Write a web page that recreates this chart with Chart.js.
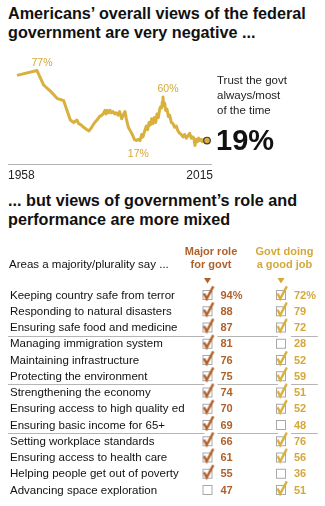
<!DOCTYPE html>
<html>
<head>
<meta charset="utf-8">
<script src="https://cdn.jsdelivr.net/npm/chart.js@4.4.1/dist/chart.umd.min.js"></script>
<style>
  html, body { margin: 0; padding: 0; background: #fff; }
  body { width: 325px; height: 506px; position: relative; overflow: hidden;
         font-family: "Liberation Sans", Arial, sans-serif; color: #111; }
  .head { position: absolute; left: 8px; font-weight: bold; font-size: 16.2px; line-height: 18.3px; white-space: nowrap; }
  .note { position: absolute; left: 217px; top: 72.7px; font-size: 11.5px; line-height: 15.3px; color: #222; }
  .big { position: absolute; left: 216px; top: 125.5px; font-size: 29px; line-height: 29px; font-weight: bold; }
  .box { position: absolute; left: 0; width: 325px; }
</style>
</head>
<body>
<div class="head" style="top:4.4px">Americans’ overall views of the federal<br>government are very negative ...</div>
<div class="box" style="top:50px;height:135px"><canvas id="trend"></canvas></div>
<div class="note">Trust the govt<br>always/most<br>of the time</div>
<div class="big" id="latest"></div>
<div class="head" style="top:190.5px;line-height:19px">... but views of government’s role and<br>performance are more mixed</div>
<div class="box" style="top:240px;height:266px"><canvas id="roles"></canvas></div>

<script>
// trust in govt (moving average line)
const trendYears = [
  1958, 1964, 1966, 1968, 1970, 1972, 1974, 1975, 1976, 1976.5,
  1977.2, 1978, 1979, 1979.6, 1980.4, 1981.3, 1982, 1982.8, 1983.5, 1984,
  1984.4, 1984.7, 1985.1, 1985.5, 1985.9, 1986.3, 1986.8, 1987.3, 1987.8, 1988.3,
  1988.8, 1989.4, 1990, 1990.4, 1990.8, 1991.4, 1992, 1992.6, 1993.2, 1993.8,
  1994.4, 1994.9, 1995.4, 1995.8, 1996.3, 1996.8, 1997.2, 1997.6, 1998, 1998.4,
  1998.8, 1999.2, 1999.6, 2000, 2000.4, 2000.8, 2001.1, 2001.4, 2001.6, 2001.8,
  2002, 2002.3, 2002.6, 2003, 2003.4, 2003.8, 2004.3, 2004.8, 2005.3, 2005.8,
  2006.3, 2006.8, 2007.3, 2007.8, 2008.3, 2008.8, 2009.3, 2009.8, 2010.3, 2010.8,
  2011.1, 2011.4, 2011.7, 2012.1, 2012.5, 2012.9, 2013.3, 2013.7, 2014.1, 2014.6,
  2015
];
const trustValues = [
  73, 77, 65, 60, 54, 52, 36, 34, 36, 33,
  32, 30, 28, 27, 30, 34, 36, 39, 40, 42,
  44, 41, 44, 42, 44, 42, 43, 41, 42, 40,
  43, 37, 41, 43, 37, 30, 27, 24, 20, 19,
  20, 19, 24, 22, 27, 31, 28, 34, 32, 37,
  33, 38, 34, 41, 38, 45, 47, 46, 51, 55,
  48, 50, 44, 45, 39, 40, 34, 33, 30, 31,
  27, 25, 24, 22, 24, 21, 23, 25, 21, 22,
  20, 15, 20, 18, 21, 19, 20, 18, 20, 19,
  19
];
// individual poll highs/lows called out on the line
const callouts = [77, 60, 17];
const calloutYears = [1964, 2001.8, 1994.4];
const firstYear = 1958, lastYear = 2015;

// areas table
const areas = [
  "Keeping country safe from terror",
  "Responding to natural disasters",
  "Ensuring safe food and medicine",
  "Managing immigration system",
  "Maintaining infrastructure",
  "Protecting the environment",
  "Strengthening the economy",
  "Ensuring access to high quality ed",
  "Ensuring basic income for 65+",
  "Setting workplace standards",
  "Ensuring access to health care",
  "Helping people get out of poverty",
  "Advancing space exploration"
];
const majorRole = [94, 88, 87, 81, 76, 75, 74, 70, 69, 66, 61, 55, 47];
const goodJob   = [72, 79, 72, 28, 52, 59, 51, 52, 48, 76, 56, 36, 51];
const columnHeads = [["Major role", "for govt"], ["Govt doing", "a good job"]];
const rowIntro = "Areas a majority/plurality say ...";

const gold = "#D9B03E";
const goldText = "#D4A83A";
const brown = "#B0612B";
const FONT = "'Liberation Sans', Arial, sans-serif";

document.getElementById("latest").textContent = trustValues[trustValues.length - 1] + "%";

const trendDecor = {
  id: "trendDecor",
  beforeDatasetsDraw(chart) {
    const { ctx, chartArea: a } = chart;
    ctx.save();
    ctx.strokeStyle = "#b5b5b5";
    ctx.lineWidth = 1;
    const by = Math.round(a.bottom) + 0.5;
    ctx.beginPath(); ctx.moveTo(a.left, by); ctx.lineTo(a.right, by); ctx.stroke();
    ctx.fillStyle = "#222";
    ctx.font = "12px " + FONT;
    ctx.textAlign = "left";
    ctx.fillText(String(firstYear), a.left, a.bottom + 15);
    ctx.textAlign = "right";
    ctx.fillText(String(lastYear), a.right + 1, a.bottom + 15);
    ctx.restore();
  },
  afterDatasetsDraw(chart) {
    const { ctx } = chart;
    const meta = chart.getDatasetMeta(0);
    const low = Math.min(...callouts);
    ctx.save();
    ctx.font = "10.5px " + FONT;
    ctx.fillStyle = goldText;
    ctx.textAlign = "center";
    callouts.forEach((v, k) => {
      let best = 0;
      trendYears.forEach((yr, i) => {
        if (Math.abs(yr - calloutYears[k]) < Math.abs(trendYears[best] - calloutYears[k])) best = i;
      });
      const p = meta.data[best];
      if (v === low) {
        ctx.textBaseline = "top";
        ctx.fillText(v + "%", p.x, p.y + 10);
      } else {
        ctx.textBaseline = "alphabetic";
        ctx.fillText(v + "%", p.x + 5, p.y - 5);
      }
    });
    ctx.restore();
  }
};

new Chart(document.getElementById("trend"), {
  type: "line",
  data: {
    datasets: [{
      data: trendYears.map((x, i) => ({ x, y: trustValues[i] })),
      borderColor: gold,
      borderWidth: 3,
      borderJoinStyle: "round",
      tension: 0,
      pointRadius: ctx => ctx.dataIndex === trendYears.length - 1 ? 3.3 : 0,
      pointBackgroundColor: gold,
      pointBorderColor: "#3a3a3a",
      pointBorderWidth: 1.2,
      clip: false
    }]
  },
  options: {
    responsive: true,
    maintainAspectRatio: false,
    animation: false,
    events: [],
    layout: { padding: { left: 8, right: 113, top: 16.9, bottom: 21.5 } },
    scales: {
      x: { type: "linear", min: 1955.3, max: 2016.5, display: false },
      y: { min: 0, max: 80, display: false }
    },
    plugins: { legend: { display: false }, tooltip: { enabled: false } }
  },
  plugins: [trendDecor]
});

// checkbox marks
function checkbox(color) {
  const c = document.createElement("canvas");
  c.width = 20; c.height = 20;
  const g = c.getContext("2d");
  g.strokeStyle = "#a8a8a8";
  g.lineWidth = 1;
  g.strokeRect(5.5, 5.5, 9, 9);
  if (color) {
    g.strokeStyle = color;
    g.lineWidth = 2.4;
    g.lineJoin = "miter";
    g.beginPath();
    g.moveTo(6.6, 8.4);
    g.lineTo(9.2, 13.8);
    g.lineTo(15.8, 1.4);
    g.stroke();
  }
  return c;
}
const boxEmpty = checkbox(null);
const colColors = [brown, goldText];
const boxChecked = [checkbox(brown), checkbox(gold)];
const colNames = columnHeads.map(h => h.join(" "));

const rolesDecor = {
  id: "rolesDecor",
  beforeDatasetsDraw(chart) {
    const { ctx, chartArea: a } = chart;
    const x = chart.scales.x, y = chart.scales.y;
    const cols = colNames.map((n, i) => x.getPixelForValue(i));
    ctx.save();
    // group separators
    ctx.strokeStyle = "#b5b5b5";
    ctx.lineWidth = 1;
    for (let i = 2; i < areas.length - 2; i += 3) {
      const yy = Math.round((y.getPixelForValue(i) + y.getPixelForValue(i + 1)) / 2) + 0.5;
      let from = 8;
      cols.forEach(cx => {
        ctx.beginPath(); ctx.moveTo(from, yy); ctx.lineTo(cx - 3, yy); ctx.stroke();
        from = cx + 10;
      });
      ctx.beginPath(); ctx.moveTo(from, yy); ctx.lineTo(a.right, yy); ctx.stroke();
    }
    // row labels on the category scale
    ctx.fillStyle = "#111";
    ctx.font = "11.5px " + FONT;
    ctx.textAlign = "left";
    ctx.textBaseline = "middle";
    areas.forEach((name, i) => ctx.fillText(name, 10, y.getPixelForValue(i) + 0.5));
    // headers
    ctx.textBaseline = "alphabetic";
    ctx.fillText(rowIntro, 9, 28);
    ctx.font = "bold 11px " + FONT;
    ctx.textAlign = "center";
    cols.forEach((cx, i) => {
      ctx.fillStyle = colColors[i];
      ctx.fillText(columnHeads[i][0], cx + 3.5, 15);
      ctx.fillText(columnHeads[i][1], cx + 3.5, 28);
      ctx.beginPath();
      ctx.moveTo(cx - 3.5, 38); ctx.lineTo(cx + 3.5, 38); ctx.lineTo(cx, 43.5);
      ctx.closePath(); ctx.fill();
    });
    ctx.restore();
  },
  afterDatasetsDraw(chart) {
    const { ctx } = chart;
    ctx.save();
    ctx.font = "bold 11px " + FONT;
    ctx.textAlign = "left";
    ctx.textBaseline = "middle";
    chart.data.datasets.forEach((ds, d) => {
      ctx.fillStyle = colColors[d];
      chart.getDatasetMeta(d).data.forEach((p, i) => {
        ctx.fillText(ds.data[i].v + (i === 0 ? "%" : ""), p.x + 13, p.y + 0.5);
      });
    });
    ctx.restore();
  }
};

new Chart(document.getElementById("roles"), {
  type: "scatter",
  data: {
    datasets: [majorRole, goodJob].map((vals, d) => ({
      data: areas.map((a, i) => ({ x: colNames[d], y: a, v: vals[i] })),
      pointStyle: ctx => (ctx.raw && ctx.raw.v >= 50 ? boxChecked[d] : boxEmpty),
      pointRadius: 5,
      clip: false
    }))
  },
  options: {
    responsive: true,
    maintainAspectRatio: false,
    animation: false,
    events: [],
    layout: { padding: { left: 170.75, right: 7.25, top: 55, bottom: 16 } },
    scales: {
      x: { type: "category", labels: colNames, offset: true, display: false },
      y: { type: "category", labels: areas, offset: false, display: false }
    },
    plugins: { legend: { display: false }, tooltip: { enabled: false } }
  },
  plugins: [rolesDecor]
});
</script>
</body>
</html>
